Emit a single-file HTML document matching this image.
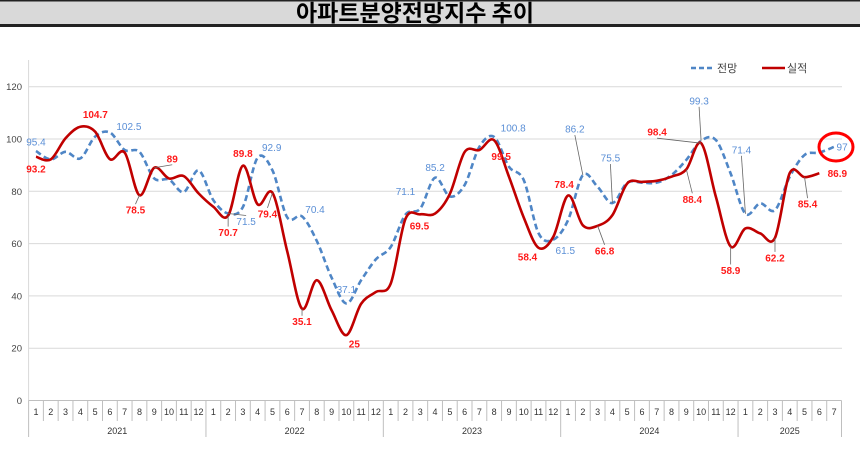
<!DOCTYPE html>
<html><head><meta charset="utf-8">
<style>
html,body{margin:0;padding:0;background:#fff;width:860px;height:455px;overflow:hidden}
svg{display:block;font-family:"Liberation Sans","Noto Sans CJK KR",sans-serif}
</style></head>
<body>
<svg id="chart" width="860" height="455" viewBox="0 0 860 455">
  <rect x="0" y="0" width="860" height="25" fill="#d9d9d9"/>
  <rect x="0" y="0" width="860" height="1.5" fill="#222"/>
  <rect x="0" y="24" width="860" height="3" fill="#222"/>
  <text x="415" y="21" text-anchor="middle" font-size="23" font-weight="bold" fill="#000" font-family="'Noto Sans CJK KR',sans-serif">아파트분양전망지수 추이</text>
  <g id="grid"></g>
  <g id="axes"></g>
  <g id="series"></g>
  <g id="labels"></g>
  <g>
    <g>
      <line x1="691" y1="68" x2="712" y2="68" stroke="#4f86c6" stroke-width="2.5" stroke-dasharray="5,3"/>
      <text x="717" y="72" font-size="11" fill="#444">전망</text>
    </g>
    <g>
      <line x1="762" y1="68" x2="785" y2="68" stroke="#c00000" stroke-width="2.5"/>
      <text x="787" y="72" font-size="11" fill="#444">실적</text>
    </g>
  </g>
  <ellipse cx="836" cy="147" rx="17" ry="14" fill="none" stroke="#ff0000" stroke-width="3"/>
</svg>
<script>
const years = ["2021","2022","2023","2024","2025"];
const monthsPerYear = [12,12,12,12,7];
const yTicks = [0,20,40,60,80,100,120];
const forecast = [95.4,92.2,95.1,92.6,100.9,102.5,95.8,95.1,84.9,84.5,79.7,88,
  76.6,71.5,74,92.9,88,70,70.4,61,47,37.1,46,54,
  58.7,71.1,73.4,85.2,78,82.4,97,100.8,89.4,84.3,64,61.5,
  69,86.2,81.7,75.5,83.3,83.3,83.3,86.2,92,99.3,99.6,86.8,
  71.4,75.4,72.8,85.6,93.9,94.8,97];
const actual = [93.2,92.2,100.3,104.7,102.8,92.3,94.8,78.5,89.0,84.9,85.8,79.2,
  74.1,70.7,89.8,75,79.4,57,35.1,46,34.5,25,37,41.5,
  44.7,69.5,71.2,71.5,79,95,95.8,99.5,85.6,70,58.4,62.6,
  78.4,67,66.8,70.9,83,83.6,84,85.6,88.4,98.4,77.9,58.9,
  65.8,63.9,62.2,87,85.4,86.9];
// annotated points: [series, index, dx, dy, leader]
const forecastLabels = [[0,0,-9,0],[5,19,-6,0],[13,18,8,1],[15,14,-10,0],[18,13,-7,0],[21,0,-14,0],
  [25,0,-23,0],[27,0,-10,0],[31,19,-9,0],[35,12,11,0],[37,-8,-46,1],[39,-2,-45,1],[45,-2,-40,1],[48,-4,-64,1],[54,8,0,0]];
const actualLabels = [[0,0,12,0],[3,15,-12,0],[7,-4,15,1],[8,18,-9,1],[13,0,17,1],[14,0,-12,0],[16,-5,21,1],
  [18,0,13,1],[21,8,9,0],[25,14,7,0],[31,7,16,0],[34,-11,9,0],[36,-4,-11,0],[38,7,25,1],[45,-44,-11,1],
  [44,6,30,1],[47,0,24,1],[50,0,20,1],[52,3,27,1],[53,18,0,0]];

const NS="http://www.w3.org/2000/svg";
const X0=28.6, CW=14.78, Y0=400.5, YK=2.615, XR=842;
const totalMonths = monthsPerYear.reduce((a,b)=>a+b,0);
function xPos(i){return X0+CW*(i+0.5);}
function yPos(v){return Y0-v*YK;}
function mk(tag,attrs,parent){const e=document.createElementNS(NS,tag);for(const k in attrs)e.setAttribute(k,attrs[k]);parent.appendChild(e);return e;}

const grid=document.getElementById('grid'), axes=document.getElementById('axes'),
      series=document.getElementById('series'), labels=document.getElementById('labels');

yTicks.forEach(t=>{
  if(t>0){const l=mk('line',{x1:X0,x2:XR,y1:yPos(t),y2:yPos(t),stroke:'#d9d9d9','stroke-width':1},grid);
    
    }
  const tx=mk('text',{x:22,y:yPos(t)+3.5,'text-anchor':'end','font-size':9.5,fill:'#444'},axes);
  tx.textContent=t;
  
  
});
const ya=mk('line',{x1:X0,x2:X0,y1:60,y2:Y0,stroke:'#d9d9d9','stroke-width':1},axes);


const xa=mk('line',{x1:X0,x2:X0+CW*totalMonths,y1:Y0,y2:Y0,stroke:'#bfbfbf','stroke-width':1},axes);



let idx=0;
years.forEach((yr,yi)=>{
  const n=monthsPerYear[yi];
  const start=idx;
  for(let m=0;m<n;m++){
    const xl=X0+CW*idx;
    const sep=mk('line',{x1:xl,x2:xl,y1:Y0,y2:m===0?437:421,stroke:'#bfbfbf','stroke-width':1},axes);
    
    
    const t=mk('text',{x:xPos(idx),y:415,'text-anchor':'middle','font-size':9,fill:'#333'},axes);
    t.textContent=m+1;
    
    
    idx++;
  }
  const yt=mk('text',{x:X0+CW*(start+n/2),y:434,'text-anchor':'middle','font-size':9,fill:'#333'},axes);
  yt.textContent=yr;
  
  
});
const endSep=mk('line',{x1:X0+CW*idx,x2:X0+CW*idx,y1:Y0,y2:437,stroke:'#bfbfbf','stroke-width':1},axes);



function smoothPath(vals){
  const p=vals.map((v,i)=>[xPos(i),yPos(v)]);
  let d='M'+p[0][0]+','+p[0][1];
  for(let i=0;i<p.length-1;i++){
    const p0=p[Math.max(0,i-1)],p1=p[i],p2=p[i+1],p3=p[Math.min(p.length-1,i+2)];
    const c1=[p1[0]+(p2[0]-p0[0])/6,p1[1]+(p2[1]-p0[1])/6];
    const c2=[p2[0]-(p3[0]-p1[0])/6,p2[1]-(p3[1]-p1[1])/6];
    d+=' C'+c1[0]+','+c1[1]+' '+c2[0]+','+c2[1]+' '+p2[0]+','+p2[1];
  }
  return d;
}
const fl=mk('path',{d:smoothPath(forecast),fill:'none',stroke:'#4f86c6','stroke-width':2.6,'stroke-dasharray':'6,3.5'},series);


const al=mk('path',{d:smoothPath(actual),fill:'none',stroke:'#c00000','stroke-width':2.6},series);



function addLabels(list,vals,color,bold,name){
  list.forEach(([i,dx,dy,leader])=>{
    const px=xPos(i),py=yPos(vals[i]);
    const lx=px+dx,ly=py+dy;
    if(leader){
      const ln=mk('line',{x1:px,y1:py,x2:lx,y2:ly+(dy<0?6:-6),stroke:'#666','stroke-width':0.8},labels);
      
      
    }
    const t=mk('text',{x:lx,y:ly+3.5,'text-anchor':'middle','font-size':10,fill:color,'font-weight':bold?'bold':'normal'},labels);
    t.textContent=vals[i];
    
    
  });
}
addLabels(forecastLabels,forecast,'#5b8fd6',false,'forecast');
addLabels(actualLabels,actual,'#ff1a1a',true,'actual');
</script>
</body></html>
